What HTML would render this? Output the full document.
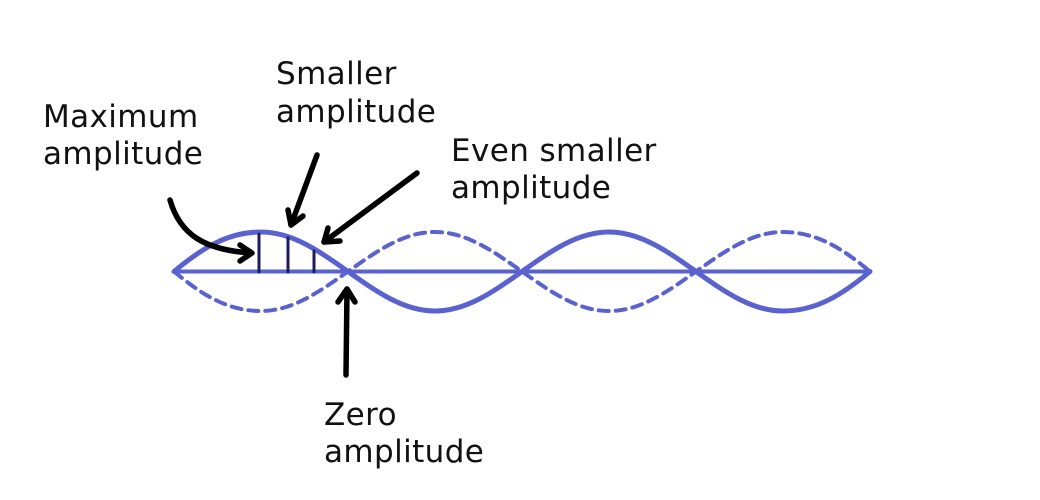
<!DOCTYPE html>
<html>
<head>
<meta charset="utf-8">
<style>
html,body{margin:0;padding:0;background:#fff;}
svg{display:block;}
text{font-family:"DejaVu Sans","Liberation Sans",sans-serif;font-size:31px;fill:#111;letter-spacing:0.4px;}
</style>
</head>
<body>
<svg width="1040" height="500" viewBox="0 0 1040 500" xmlns="http://www.w3.org/2000/svg">
  <rect width="1040" height="500" fill="#fff"/>
  <!-- horizontal axis -->
  <line x1="174" y1="271.5" x2="870" y2="271.5" stroke="#5a62d0" stroke-width="4" stroke-linecap="round"/>
  <!-- solid wave -->
  <path d="M174,271.5 C201,249 227,232 261,232 C292.4,232 318.9,251 348,271.5 C377.1,292 403.6,311 435,311 C466.4,311 492.9,292 522,271.5 C551.1,251 577.6,232 609,232 C640.4,232 666.9,251 696,271.5 C725.1,292 751.6,311 783,311 C817,311 843,294 870,271.5" fill="none" stroke="#5a62d0" stroke-width="5" stroke-linecap="round"/>
  <!-- dashed wave -->
  <path d="M174,271.5 C201,294 227,311 261,311 C292.4,311 318.9,292 348,271.5 C377.1,251 403.6,232 435,232 C466.4,232 492.9,251 522,271.5 C551.1,292 577.6,311 609,311 C640.4,311 666.9,292 696,271.5 C725.1,251 751.6,232 783,232 C817,232 843,249 870,271.5" fill="none" stroke="#5a62d0" stroke-width="4" stroke-dasharray="10 7" stroke-linecap="round"/>
  <!-- amplitude bars -->
  <g stroke="#1c1c5e" stroke-width="3" stroke-linecap="round">
    <line x1="259" y1="234" x2="259" y2="272"/>
    <line x1="288" y1="238" x2="288" y2="272"/>
    <line x1="314" y1="251" x2="314" y2="272"/>
  </g>
  <!-- arrows -->
  <g fill="none" stroke="#000" stroke-width="5.5" stroke-linecap="round" stroke-linejoin="round">
    <path d="M170,200 C180,235 205,250 251,253"/>
    <path d="M240,245 L252,253 L240,261"/>
    <path d="M317,155 L291,225"/>
    <path d="M288,210 L291,225 L303,216"/>
    <path d="M417,173 L324,242"/>
    <path d="M328,228 L324,242 L340,241"/>
    <path d="M346,375 L347,289"/>
    <path d="M338,302 L347,289 L355,302"/>
  </g>
  <!-- labels -->
  <text x="43" y="127">Maximum</text>
  <text x="43" y="164">amplitude</text>
  <text x="276" y="84">Smaller</text>
  <text x="276" y="122">amplitude</text>
  <text x="451" y="161">Even smaller</text>
  <text x="451" y="198">amplitude</text>
  <text x="324" y="425">Zero</text>
  <text x="324" y="462">amplitude</text>
</svg>
</body>
</html>
